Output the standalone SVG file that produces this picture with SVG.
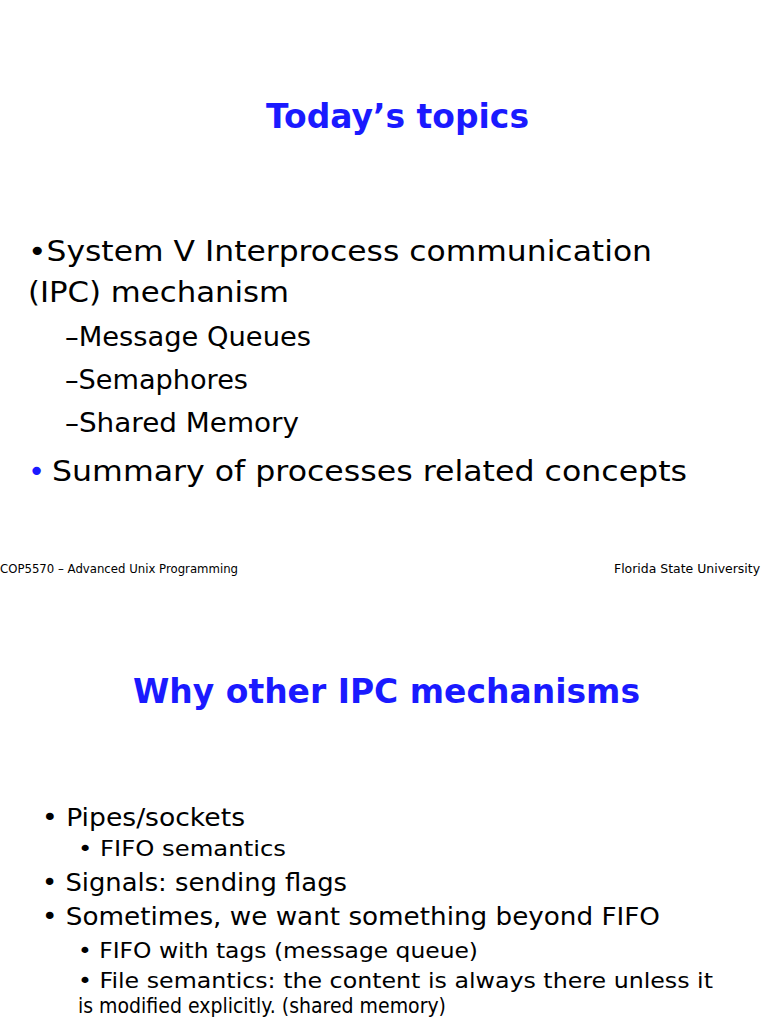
<svg xmlns="http://www.w3.org/2000/svg" width="768" height="1024" viewBox="0 0 768 1024">
<style>
text{font-family:"DejaVu Sans","Liberation Sans",sans-serif;fill:#000}
.t{fill:#1a1aff;font-weight:bold;font-size:34px}
.b{font-size:29px}
.s{font-size:26px}
.f{font-size:12px}
.p{font-size:24px}
.q{font-size:21px}
</style>
<rect width="768" height="1024" fill="#fff"/>
<text class="t" x="266" y="128" textLength="263" lengthAdjust="spacingAndGlyphs">Today’s topics</text>
<text class="b" x="28" y="261" textLength="624" lengthAdjust="spacingAndGlyphs">•System V Interprocess communication</text>
<text class="b" x="28" y="302" textLength="261" lengthAdjust="spacingAndGlyphs">(IPC) mechanism</text>
<text class="s" x="65" y="346" textLength="246" lengthAdjust="spacingAndGlyphs">–Message Queues</text>
<text class="s" x="65" y="389" textLength="183" lengthAdjust="spacingAndGlyphs">–Semaphores</text>
<text class="s" x="65" y="432" textLength="234" lengthAdjust="spacingAndGlyphs">–Shared Memory</text>
<text class="b" x="28" y="481"><tspan fill="#1a1aff">•</tspan></text>
<text class="b" x="52" y="481" textLength="635" lengthAdjust="spacingAndGlyphs">Summary of processes related concepts</text>
<text class="f" x="0" y="573" textLength="238" lengthAdjust="spacingAndGlyphs">COP5570 – Advanced Unix Programming</text>
<text class="f" x="614" y="573" textLength="146" lengthAdjust="spacingAndGlyphs">Florida State University</text>
<text class="t" x="133" y="703" textLength="507" lengthAdjust="spacingAndGlyphs">Why other IPC mechanisms</text>
<text class="p" x="42" y="826" textLength="203" lengthAdjust="spacingAndGlyphs">• Pipes/sockets</text>
<text class="q" x="78" y="856" textLength="208" lengthAdjust="spacingAndGlyphs">• FIFO semantics</text>
<text class="p" x="42" y="891" textLength="305" lengthAdjust="spacingAndGlyphs">• Signals: sending flags</text>
<text class="p" x="42" y="925" textLength="618" lengthAdjust="spacingAndGlyphs">• Sometimes, we want something beyond FIFO</text>
<text class="q" x="78" y="958" textLength="400" lengthAdjust="spacingAndGlyphs">• FIFO with tags (message queue)</text>
<text class="q" x="78" y="988" textLength="635" lengthAdjust="spacingAndGlyphs">• File semantics: the content is always there unless it</text>
<text class="q" x="78" y="1013" textLength="368" lengthAdjust="spacingAndGlyphs">is modified explicitly. (shared memory)</text>
</svg>
